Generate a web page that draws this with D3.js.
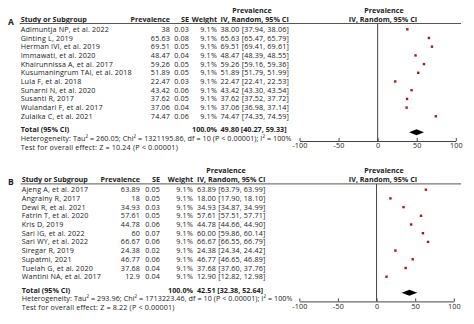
<!DOCTYPE html>
<html>
<head>
<meta charset="utf-8">
<script src="https://cdn.jsdelivr.net/npm/d3@7"></script>
<style>
  body { margin: 0; background: #fff; }
  svg { display: block; font-family: "Open Sans", sans-serif; }
  text { fill: #222; letter-spacing: 0.16px; }
  text.b { letter-spacing: 0; }
  text.het { letter-spacing: 0.06px; }
</style>
</head>
<body>
<svg id="chart" width="474" height="324"></svg>
<script>
// --- Panel A data ---
const studiesA = ["Adimuntja NP, et al. 2022", "Ginting L, 2019", "Herman IVI, et al. 2019", "Immawati, et al. 2020",
    "Khairunnissa A, et al. 2017", "Kusumaningrum TAI, et al. 2018", "Lula F, et al. 2018", "Sunarni N, et al. 2020",
    "Susanti R, 2017", "Wulandari F, et al. 2017", "Zulaika C, et al. 2021"];
const prevA = [38, 65.63, 69.51, 48.47, 59.26, 51.89, 22.47, 43.42, 37.62, 37.06, 74.47];
const seA = [0.03, 0.08, 0.05, 0.04, 0.05, 0.05, 0.03, 0.06, 0.05, 0.04, 0.06];
const lowA = [37.94, 65.47, 69.41, 48.39, 59.16, 51.79, 22.41, 43.30, 37.52, 36.98, 74.35];
const highA = [38.06, 65.79, 69.61, 48.55, 59.36, 51.99, 22.53, 43.54, 37.72, 37.14, 74.59];
const totalA = [49.80, 40.27, 59.33];
const hetA = "Heterogeneity: Tau² = 260.05; Chi² = 1321195.86, df = 10 (P < 0.00001); I² = 100%";
const testA = "Test for overall effect: Z = 10.24 (P < 0.00001)";

// --- Panel B data ---
const studiesB = ["Ajeng A, et al. 2017", "Angrainy R, 2017", "Dewi R, et al. 2021", "Fatrin T, et al. 2020",
    "Kris D, 2019", "Sari IG, et al. 2022", "Sari WY, et al. 2022", "Siregar R, 2019", "Supatmi, 2021",
    "Tuelah G, et al. 2020", "Wantini NA, et al. 2017"];
const prevB = [63.89, 18, 34.93, 57.61, 44.78, 60, 66.67, 24.38, 46.77, 37.68, 12.9];
const seB = [0.05, 0.05, 0.03, 0.05, 0.06, 0.07, 0.06, 0.02, 0.06, 0.04, 0.04];
const lowB = [63.79, 17.90, 34.87, 57.51, 44.66, 59.86, 66.55, 24.34, 46.65, 37.60, 12.82];
const highB = [63.99, 18.10, 34.99, 57.71, 44.90, 60.14, 66.79, 24.42, 46.89, 37.76, 12.98];
const totalB = [42.51, 32.38, 52.64];
const hetB = "Heterogeneity: Tau² = 293.96; Chi² = 1713223.46, df = 10 (P < 0.00001); I² = 100%";
const testB = "Test for overall effect: Z = 8.22 (P < 0.00001)";

const weight = "9.1%";
const axisTicks = [-100, -50, 0, 50, 100];

const svg = d3.select("#chart");
svg.append("rect").attr("width", 474).attr("height", 324).attr("fill", "#fff");

function drawPanel(p) {
    const g = svg.append("g").attr("transform", `translate(0,${p.dy})`);
    const fs = 7.2;

    const rows = p.studies.map((s, i) => ({
        study: s, prev: p.prev[i], se: p.se[i], low: p.low[i], high: p.high[i]
    }));

    const x = d3.scaleLinear().domain([-100, 100]).range(p.xRange);
    const y = d3.scalePoint().domain(p.studies).range([29.3, 116.3]);

    const txt = (xx, yy, s, anchor, bold) => g.append("text")
        .attr("class", bold ? "b" : null)
        .attr("x", xx).attr("y", yy).attr("dy", "0.35em")
        .attr("text-anchor", anchor || "start")
        .attr("font-size", fs)
        .attr("font-weight", bold ? "bold" : "normal")
        .text(s);

    // header
    txt(8, 22, p.label, "start", true).attr("font-size", 8.5);
    txt(p.col.study, 19, "Study or Subgroup", "start", true);
    txt(p.col.prev, 19, "Prevalence", "end", true);
    txt(p.col.se, 19, "SE", "end", true);
    txt(p.col.weight, 19, "Weight", "end", true);
    txt(p.col.ciHead, 10, "Prevalence", "middle", true);
    txt(p.col.ci, 19, "IV, Random, 95% CI", "start", true);
    txt(384, 10, "Prevalence", "middle", true);
    txt(383, 19, "IV, Random, 95% CI", "middle", true);

    g.append("line")
        .attr("x1", p.col.study - 1).attr("x2", 461)
        .attr("y1", 23.5).attr("y2", 23.5)
        .attr("stroke", "#555").attr("stroke-width", 1);

    // study rows
    const r = g.selectAll(".row").data(rows).enter().append("g").attr("class", "row");
    r.append("text").attr("x", p.col.study).attr("y", d => y(d.study)).attr("dy", "0.35em")
        .attr("font-size", fs).text(d => d.study);
    r.append("text").attr("x", p.col.prev).attr("y", d => y(d.study)).attr("dy", "0.35em")
        .attr("text-anchor", "end").attr("font-size", fs).text(d => d.prev);
    r.append("text").attr("x", p.col.se).attr("y", d => y(d.study)).attr("dy", "0.35em")
        .attr("text-anchor", "end").attr("font-size", fs).text(d => d.se.toFixed(2));
    r.append("text").attr("x", p.col.weight).attr("y", d => y(d.study)).attr("dy", "0.35em")
        .attr("text-anchor", "end").attr("font-size", fs).text(weight);
    r.append("text").attr("x", p.col.ci).attr("y", d => y(d.study)).attr("dy", "0.35em")
        .attr("font-size", fs)
        .text(d => `${d.prev.toFixed(2)} [${d.low.toFixed(2)}, ${d.high.toFixed(2)}]`);

    // total + footer text
    txt(p.col.study, 129.6, "Total (95% CI)", "start", true);
    txt(p.col.weight, 129.6, "100.0%", "end", true);
    txt(p.col.ci, 129.6, `${p.total[0].toFixed(2)} [${p.total[1].toFixed(2)}, ${p.total[2].toFixed(2)}]`, "start", true);
    txt(p.col.study, 138.3, p.het).attr("class", "het");
    txt(p.col.study, 147, p.test);

    // plot
    const axisY = 141;
    g.append("line")
        .attr("x1", x(0)).attr("x2", x(0))
        .attr("y1", 23.5).attr("y2", axisY)
        .attr("stroke", "#444").attr("stroke-width", 1);

    r.append("rect")
        .attr("x", d => x(d.prev) - 1.2)
        .attr("y", d => y(d.study) - 1.2)
        .attr("width", 2.4).attr("height", 2.4)
        .attr("fill", "#b0121b");

    const [m, lo, hi] = p.total;
    const ty = 132.3;
    g.append("path")
        .attr("d", `M${x(lo)},${ty} L${x(m)},${ty - 3} L${x(hi)},${ty} L${x(m)},${ty + 3} Z`)
        .attr("fill", "#000");

    const ax = g.append("g")
        .attr("transform", `translate(0,${axisY})`)
        .call(d3.axisBottom(x).tickValues(axisTicks).tickSizeInner(-3).tickSizeOuter(0).tickPadding(2)
            .tickFormat(d3.format("d")));
    ax.select(".domain").attr("stroke", "#444");
    ax.selectAll(".tick line").attr("stroke", "#444");
    ax.selectAll(".tick text").attr("font-size", fs).attr("font-family", "Open Sans, sans-serif")
        .attr("fill", "#222").text(d => String(d).replace("\u2212", "-"));
}

drawPanel({
    label: "A", dy: 0,
    studies: studiesA, prev: prevA, se: seA, low: lowA, high: highA, total: totalA,
    het: hetA, test: testA,
    col: { study: 20.7, prev: 170, se: 189, weight: 217, ci: 220.5, ciHead: 252 },
    xRange: [299.5, 455.8]
});

drawPanel({
    label: "B", dy: 160.4,
    studies: studiesB, prev: prevB, se: seB, low: lowB, high: highB, total: totalB,
    het: hetB, test: testB,
    col: { study: 21.7, prev: 140, se: 160, weight: 193, ci: 197, ciHead: 226 },
    xRange: [299.3, 453.8]
});
</script>
</body>
</html>
